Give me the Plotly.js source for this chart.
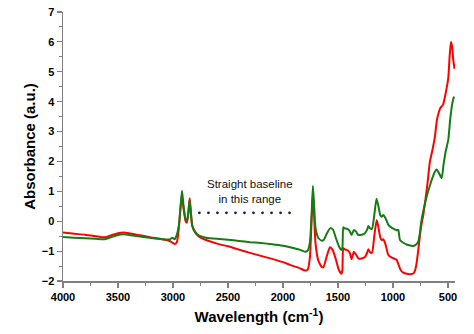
<!DOCTYPE html>
<html>
<head>
<meta charset="utf-8">
<script src="https://cdn.plot.ly/plotly-3.0.1.min.js"></script>
<style>
  html, body { margin: 0; padding: 0; background: #fff; }
  #chart { width: 474px; height: 334px; }
</style>
</head>
<body>
<div id="chart"></div>
<script>
// FTIR spectra: absorbance vs wavenumber
const redWavenumber = [4000, 3900, 3800, 3700, 3620, 3560, 3500, 3450, 3400, 3300, 3200, 3100, 3030, 2985, 2965, 2950, 2935, 2920, 2905, 2885, 2873, 2860, 2848, 2838, 2825, 2800, 2775, 2750, 2700, 2600, 2500, 2400, 2300, 2200, 2100, 2000, 1936, 1850, 1800, 1775, 1755, 1740, 1728, 1718, 1705, 1680, 1650, 1633, 1600, 1573, 1550, 1525, 1495, 1470, 1460, 1452, 1435, 1421, 1405, 1391, 1376, 1355, 1335, 1315, 1285, 1255, 1235, 1224, 1205, 1190, 1170, 1148, 1130, 1115, 1103, 1088, 1070, 1042, 1010, 997, 967, 950, 930, 906, 875, 845, 815, 800, 785, 770, 745, 725, 709, 685, 664, 640, 618, 600, 585, 570, 545, 520, 497, 485, 473, 462, 452, 440];
const redAbsorbance = [-0.38, -0.42, -0.45, -0.50, -0.54, -0.47, -0.40, -0.38, -0.40, -0.47, -0.54, -0.60, -0.66, -0.76, -0.70, -0.35, 0.30, 0.88, 0.45, 0.00, -0.05, 0.30, 0.77, 0.35, -0.15, -0.37, -0.48, -0.55, -0.63, -0.75, -0.84, -0.95, -1.06, -1.16, -1.26, -1.37, -1.46, -1.57, -1.65, -1.62, -1.20, 0.00, 0.95, 0.30, -0.70, -1.30, -1.52, -1.54, -1.15, -0.87, -0.95, -1.20, -1.60, -1.76, -1.65, -0.90, -0.95, -0.96, -1.00, -1.07, -1.27, -1.02, -1.12, -1.24, -1.25, -1.20, -1.05, -0.94, -1.05, -1.05, -0.50, 0.04, -0.25, -0.55, -0.63, -0.60, -0.75, -1.13, -1.22, -1.24, -1.29, -1.45, -1.63, -1.72, -1.76, -1.77, -1.75, -1.65, -1.40, -0.96, -0.20, 0.20, 0.60, 1.30, 2.00, 2.40, 2.85, 3.40, 3.62, 3.78, 3.90, 4.30, 4.80, 5.50, 6.00, 5.85, 5.40, 5.10];

const greenWavenumber = [4000, 3900, 3800, 3700, 3620, 3560, 3500, 3450, 3400, 3300, 3200, 3100, 3030, 3005, 2985, 2965, 2945, 2930, 2918, 2905, 2885, 2873, 2860, 2850, 2840, 2825, 2800, 2775, 2750, 2700, 2600, 2500, 2400, 2300, 2200, 2100, 2000, 1936, 1850, 1800, 1775, 1755, 1740, 1728, 1718, 1705, 1680, 1650, 1630, 1600, 1570, 1545, 1520, 1490, 1470, 1460, 1452, 1440, 1421, 1405, 1391, 1376, 1355, 1335, 1315, 1285, 1255, 1235, 1224, 1205, 1190, 1170, 1150, 1135, 1115, 1103, 1088, 1070, 1042, 1010, 985, 967, 952, 936, 906, 875, 845, 815, 790, 770, 755, 745, 709, 680, 648, 620, 603, 580, 557, 540, 520, 497, 480, 460, 445];
const greenAbsorbance = [-0.53, -0.55, -0.57, -0.59, -0.60, -0.53, -0.46, -0.44, -0.46, -0.51, -0.56, -0.60, -0.61, -0.55, -0.60, -0.45, -0.10, 0.55, 1.02, 0.55, 0.05, 0.00, 0.30, 0.71, 0.35, -0.15, -0.35, -0.45, -0.50, -0.55, -0.59, -0.62, -0.66, -0.70, -0.73, -0.77, -0.82, -0.87, -0.95, -1.02, -0.98, -0.70, 0.20, 1.18, 0.60, -0.20, -0.55, -0.65, -0.63, -0.40, -0.23, -0.28, -0.55, -0.85, -0.96, -0.90, -0.20, -0.24, -0.25, -0.28, -0.35, -0.46, -0.29, -0.35, -0.46, -0.45, -0.40, -0.28, -0.16, -0.25, -0.25, 0.20, 0.75, 0.55, 0.20, 0.15, 0.21, 0.12, -0.12, -0.22, -0.27, -0.30, -0.29, -0.63, -0.72, -0.78, -0.81, -0.83, -0.78, -0.68, -0.40, -0.07, 0.60, 1.00, 1.38, 1.65, 1.73, 1.60, 1.44, 1.90, 2.35, 2.72, 3.40, 3.95, 4.17];

// dotted marker row showing the straight-baseline range
const baselineDotsX = [2760, 2678, 2596, 2514, 2432, 2350, 2268, 2186, 2104, 2022, 1940];
const baselineDotsY = [0.28, 0.28, 0.28, 0.28, 0.28, 0.28, 0.28, 0.28, 0.28, 0.28, 0.28];

const xTickVals = [4000, 3500, 3000, 2500, 2000, 1500, 1000, 500];
const yTickVals = [-2, -1, 0, 1, 2, 3, 4, 5, 6, 7];

const lineStyle = { shape: 'spline', smoothing: 0.5, width: 2 };

const traces = [
  {
    x: redWavenumber, y: redAbsorbance, type: 'scatter', mode: 'lines',
    line: Object.assign({ color: '#ff0000' }, lineStyle), hoverinfo: 'x+y'
  },
  {
    x: greenWavenumber, y: greenAbsorbance, type: 'scatter', mode: 'lines',
    line: Object.assign({ color: '#137c13' }, lineStyle), hoverinfo: 'x+y'
  },
  {
    x: baselineDotsX, y: baselineDotsY, type: 'scatter', mode: 'markers',
    marker: { color: '#1c1c5c', size: 2.8 }, hoverinfo: 'skip'
  }
];

const axisCommon = {
  showgrid: false, zeroline: false, showline: true,
  linecolor: '#808080', linewidth: 1.5,
  ticks: 'outside', ticklen: 5, tickwidth: 1.2, tickcolor: '#808080',
  tickfont: { family: 'Liberation Sans, Arial, sans-serif', size: 11, color: '#000', weight: 'bold' }
};

const layout = {
  width: 474, height: 334,
  margin: { l: 63, r: 19, t: 12, b: 53 },
  paper_bgcolor: '#fff', plot_bgcolor: '#fff',
  showlegend: false,
  xaxis: Object.assign({}, axisCommon, {
    range: [4000, 436],
    tickvals: xTickVals,
    minor: { dtick: 250, tick0: 0, ticks: 'outside', ticklen: 3, tickcolor: '#808080', tickwidth: 1 },
    title: {
      text: 'Wavelength (cm<sup>-1</sup>)',
      font: { family: 'Liberation Sans, Arial, sans-serif', size: 15, color: '#000', weight: 'bold' },
      standoff: 10
    }
  }),
  yaxis: Object.assign({}, axisCommon, {
    range: [-2, 7],
    tickvals: yTickVals,
    minor: { dtick: 0.5, tick0: 0, ticks: 'outside', ticklen: 3, tickcolor: '#808080', tickwidth: 1 },
    title: {
      text: 'Absorbance (a.u.)',
      font: { family: 'Liberation Sans, Arial, sans-serif', size: 15, color: '#000', weight: 'bold' },
      standoff: 2
    }
  }),
  annotations: [
    {
      x: 2300, y: 1.0, xref: 'x', yref: 'y',
      text: 'Straight baseline<br>in this range',
      showarrow: false,
      font: { family: 'Liberation Sans, Arial, sans-serif', size: 11.5, color: '#111' },
      align: 'center'
    }
  ]
};

Plotly.newPlot('chart', traces, layout, { displayModeBar: false, staticPlot: true });
</script>
</body>
</html>
